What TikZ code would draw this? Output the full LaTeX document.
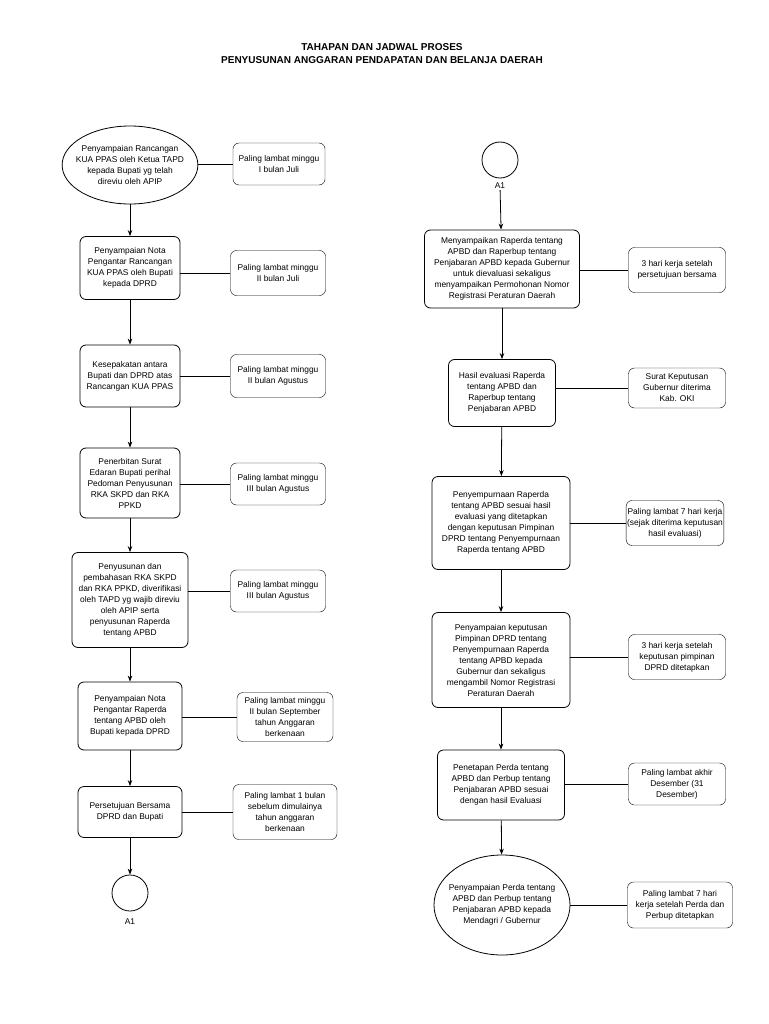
\documentclass[tikz,border=0pt]{standalone}
\usepackage{fontspec}
\setmainfont{Liberation Sans}
\usetikzlibrary{shapes.geometric,arrows.meta}
\begin{document}
\begin{tikzpicture}[x=1pt,y=-1pt,
 every node/.style={font=\fontsize{8.4}{11}\selectfont,align=center,inner sep=1pt},
 stepbox/.style={draw,rounded corners=6pt,thick},
 notebox/.style={draw,rounded corners=6pt},
 oval/.style={draw,ellipse,thick,inner sep=-6pt},
 circ/.style={draw,circle,thick,minimum size=36pt},
 arr/.style={-{Stealth[length=6pt]},thick},
 ln/.style={thin}]
\useasboundingbox (0,0) rectangle (768,1024);
\node[font=\fontsize{10}{13}\selectfont\bfseries] (title) at (382,54) {TAHAPAN DAN JADWAL PROSES\\PENYUSUNAN ANGGARAN PENDAPATAN DAN BELANJA DAERAH};
% left column
\node[oval,minimum width=126pt,minimum height=78pt] (l1) at (130,165) {Penyampaian Rancangan\\KUA PPAS oleh Ketua TAPD\\kepada Bupati yg telah\\direviu oleh APIP};
\node[stepbox,minimum width=100pt,minimum height=63pt] (l2) at (130,268) {Penyampaian Nota\\Pengantar Rancangan\\KUA PPAS oleh Bupati\\kepada DPRD};
\node[stepbox,minimum width=100pt,minimum height=62pt] (l3) at (130,376) {Kesepakatan antara\\Bupati dan DPRD atas\\Rancangan KUA PPAS};
\node[stepbox,minimum width=100pt,minimum height=70pt] (l4) at (130,483) {Penerbitan Surat\\Edaran Bupati perihal\\Pedoman Penyusunan\\RKA SKPD dan RKA\\PPKD};
\node[stepbox,minimum width=116pt,minimum height=95pt] (l5) at (130,600) {Penyusunan dan\\pembahasan RKA SKPD\\dan RKA PPKD, diverifikasi\\oleh TAPD yg wajib direviu\\oleh APIP serta\\penyusunan Raperda\\tentang APBD};
\node[stepbox,minimum width=104pt,minimum height=68pt] (l6) at (130,716) {Penyampaian Nota\\Pengantar Raperda\\tentang APBD oleh\\Bupati kepada DPRD};
\node[stepbox,minimum width=104pt,minimum height=51pt] (l7) at (130,812) {Persetujuan Bersama\\DPRD dan Bupati};
\node[circ] (l8) at (130,893) {};
\node (a1l) at (130,922) {A1};
% left notes
\node[notebox,minimum width=92pt,minimum height=42pt] (n1) at (279,164) {Paling lambat minggu\\I bulan Juli};
\node[notebox,minimum width=95pt,minimum height=45pt] (n2) at (278,273) {Paling lambat minggu\\II bulan Juli};
\node[notebox,minimum width=95pt,minimum height=43pt] (n3) at (278,376) {Paling lambat minggu\\II bulan Agustus};
\node[notebox,minimum width=95pt,minimum height=42pt] (n4) at (278,484) {Paling lambat minggu\\III bulan Agustus};
\node[notebox,minimum width=95pt,minimum height=42pt] (n5) at (278,591) {Paling lambat minggu\\III bulan Agustus};
\node[notebox,minimum width=96pt,minimum height=49pt] (n6) at (285,717) {Paling lambat minggu\\II bulan September\\tahun Anggaran\\berkenaan};
\node[notebox,minimum width=104pt,minimum height=55pt] (n7) at (285,812) {Paling lambat 1 bulan\\sebelum dimulainya\\tahun anggaran\\berkenaan};
% right column
\node[circ] (r0) at (500,160) {};
\node (a1r) at (500,186) {A1};
\node[stepbox,minimum width=155pt,minimum height=78pt] (r1) at (502,269) {Menyampaikan Raperda tentang\\APBD dan Raperbup tentang\\Penjabaran APBD kepada Gubernur\\untuk dievaluasi sekaligus\\menyampaikan Permohonan Nomor\\Registrasi Peraturan Daerah};
\node[stepbox,minimum width=107pt,minimum height=67pt] (r2) at (502,393) {Hasil evaluasi Raperda\\tentang APBD dan\\Raperbup tentang\\Penjabaran APBD};
\node[stepbox,minimum width=138pt,minimum height=93pt] (r3) at (501,523) {Penyempurnaan Raperda\\tentang APBD sesuai hasil\\evaluasi yang ditetapkan\\dengan keputusan Pimpinan\\DPRD tentang Penyempurnaan\\Raperda tentang  APBD};
\node[stepbox,minimum width=138pt,minimum height=95pt] (r4) at (501,660) {Penyampaian keputusan\\Pimpinan DPRD tentang\\Penyempurnaan Raperda\\tentang APBD kepada\\Gubernur dan sekaligus\\mengambil Nomor Registrasi\\Peraturan Daerah};
\node[stepbox,minimum width=127pt,minimum height=70pt] (r5) at (501,785) {Penetapan Perda tentang\\APBD dan Perbup tentang\\Penjabaran APBD sesuai\\dengan hasil Evaluasi};
\node[oval,minimum width=136pt,minimum height=100pt] (r6) at (502,905) {Penyampaian Perda tentang\\APBD dan Perbup tentang\\Penjabaran APBD kepada\\Mendagri / Gubernur};
% right notes
\node[notebox,minimum width=97pt,minimum height=45pt] (m1) at (677,270) {3 hari kerja setelah\\persetujuan bersama};
\node[notebox,minimum width=97pt,minimum height=40pt] (m2) at (677,388) {Surat Keputusan\\Gubernur diterima\\Kab. OKI};
\node[notebox,minimum width=92pt,minimum height=45pt] (m3) at (675,523) {Paling lambat 7 hari kerja\\(sejak diterima keputusan\\hasil evaluasi)};
\node[notebox,minimum width=97pt,minimum height=45pt] (m4) at (677,657) {3 hari kerja setelah\\keputusan pimpinan\\DPRD ditetapkan};
\node[notebox,minimum width=97pt,minimum height=42pt] (m5) at (677,784) {Paling lambat akhir\\Desember (31\\Desember)};
\node[notebox,minimum width=105pt,minimum height=46pt] (m6) at (680,905) {Paling lambat 7 hari\\kerja setelah Perda dan\\Perbup ditetapkan};
% arrows
\foreach \a/\b in {l1/l2,l2/l3,l3/l4,l4/l5,l5/l6,l6/l7,l7/l8,a1r/r1,r1/r2,r2/r3,r3/r4,r4/r5,r5/r6}
  \draw[arr] (\a) -- (\b);
\foreach \a/\b in {l1/n1,l2/n2,l3/n3,l4/n4,l5/n5,l6/n6,l7/n7,r1/m1,r2/m2,r3/m3,r4/m4,r5/m5,r6/m6}
  \draw[ln] (\b.west) -- (\a.east |- \b.west);
\end{tikzpicture}
\end{document}
